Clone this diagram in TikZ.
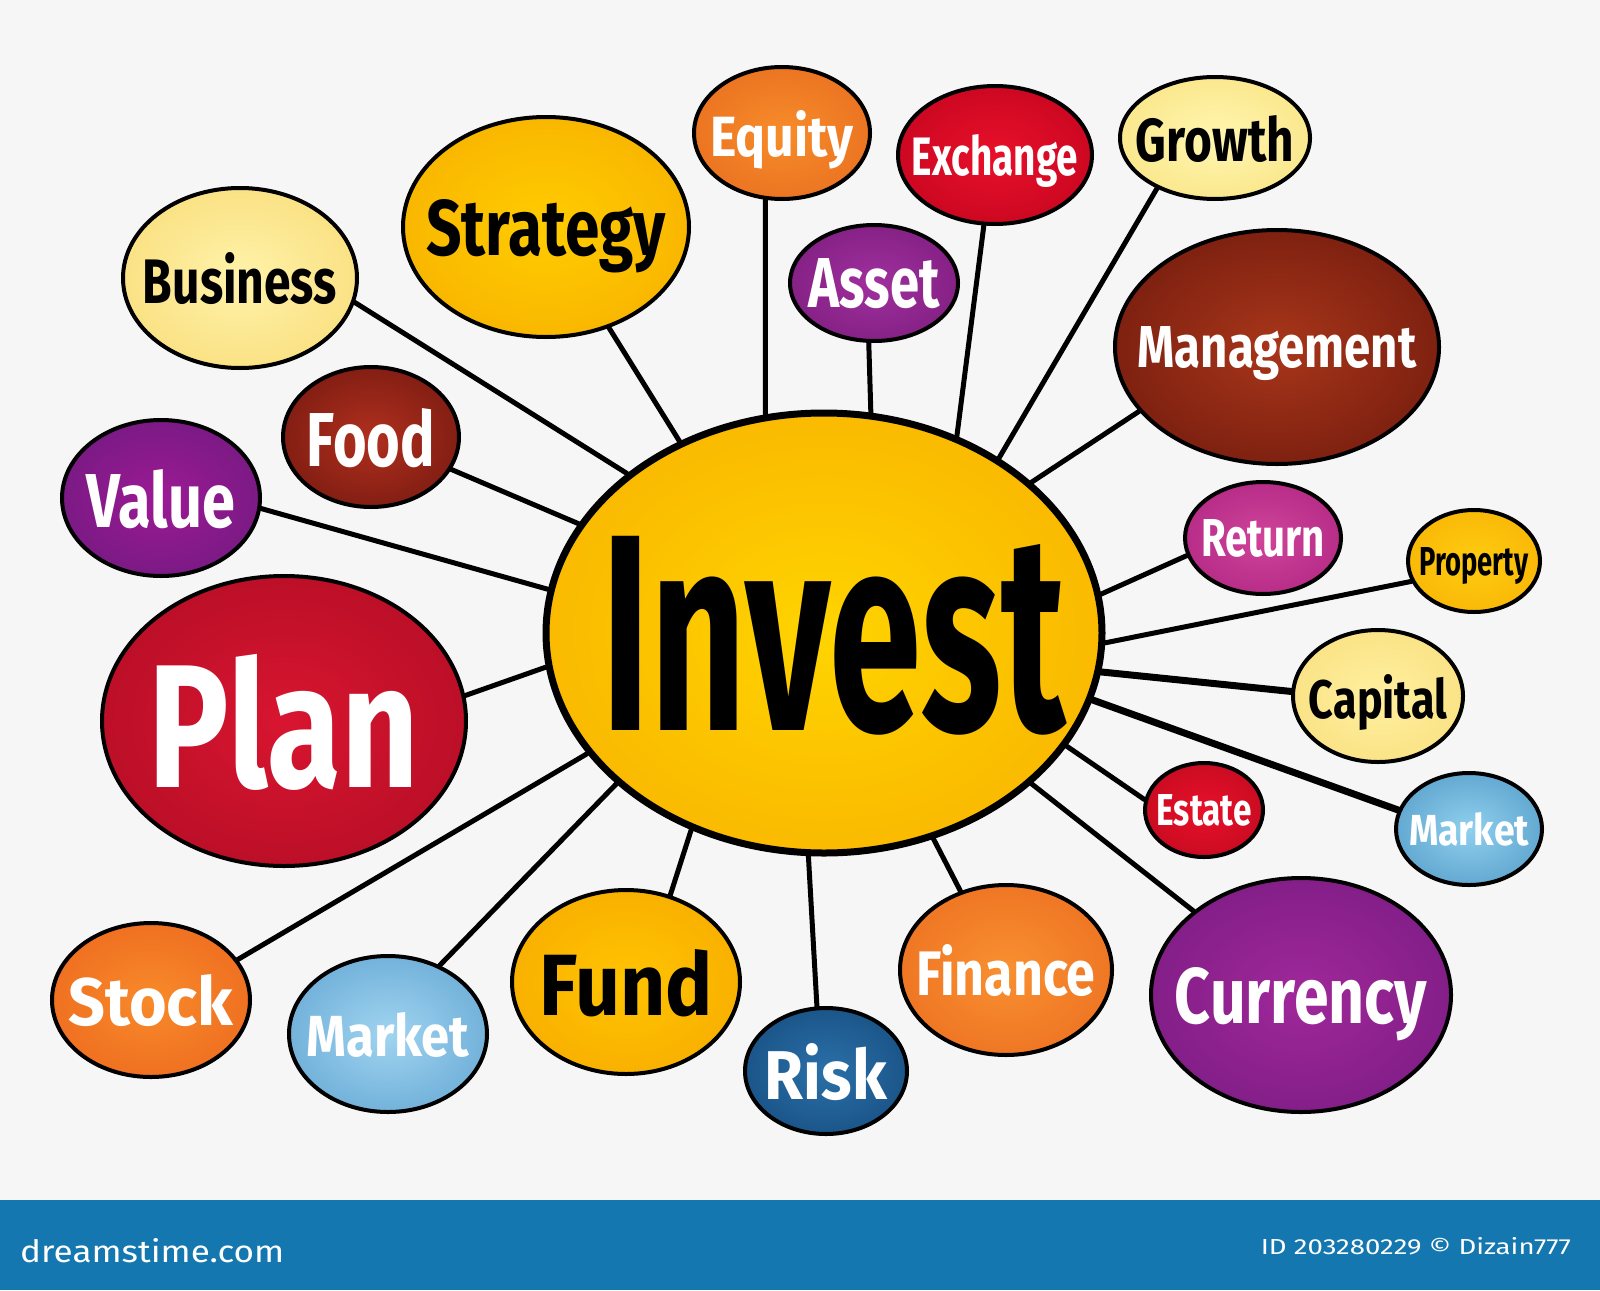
\documentclass[tikz,border=0pt]{standalone}
\usepackage{fontspec}
\setmainfont{Fira Sans}
\usepackage{graphicx}
\usetikzlibrary{shapes.geometric}
\colorlet{inC}{white}
\colorlet{outC}{black}
\pgfdeclareradialshading[inC,outC]{bubshade}{\pgfpoint{0bp}{0bp}}{color(0bp)=(inC); color(47bp)=(outC); color(50bp)=(outC)}
\newcommand\lbl[4]{\smash{\makebox[0pt]{\raisebox{-0.5\height}{\resizebox{#1pt}{#2pt}{\color{#3}\bfseries #4}}}}}
\tikzset{
  fillgrad/.code 2 args={\colorlet{inC}{#1}\colorlet{outC}{#2}\tikzset{shade,shading=bubshade}},
  bubble/.style={ellipse, draw=black, line width=4pt, inner sep=0pt},
  link/.style={line width=5pt, line cap=round},
  thicklink/.style={line width=7pt, line cap=round},
}
\begin{document}
\begin{tikzpicture}[x=1pt,y=-1pt]
\path[use as bounding box] (0,0) rectangle (1600,1290);
\fill[color={rgb,255:red,246;green,246;blue,246}] (0,0) rectangle (1600,1200);
\fill[color={rgb,255:red,20;green,119;blue,175}] (0,1200) rectangle (1600,1290);
\node[anchor=base west, inner sep=0pt] (brand) at (20,1262) {\resizebox{264pt}{24pt}{\color{white}dreamstime.com}};
\node[anchor=base east, inner sep=0pt] (imgid) at (1571,1254) {\resizebox{310pt}{17pt}{\color{white}ID 203280229 © Dizain777}};

% central
\node[bubble, line width=7pt, fillgrad={rgb,255:red,255;green,212;blue,0}{rgb,255:red,245;green,163;blue,0}, minimum width=556pt, minimum height=440pt] (invest) at (824,633) {\hspace{20pt}\lbl{464}{194}{black}{Invest}};

% top-left
\node[bubble, fillgrad={rgb,255:red,255;green,243;blue,170}{rgb,255:red,246;green,210;blue,100}, minimum width=234pt, minimum height=180pt] (business) at (240,278) {\lbl{194}{51}{black}{Business}};
\node[bubble, fillgrad={rgb,255:red,255;green,204;blue,0}{rgb,255:red,244;green,165;blue,0}, minimum width=286pt, minimum height=220pt] (strategy) at (546,227) {\lbl{240}{56}{black}{Strategy}};
\node[bubble, fillgrad={rgb,255:red,247;green,140;blue,42}{rgb,255:red,226;green,96;blue,26}, minimum width=176pt, minimum height=132pt] (equity) at (782,133) {\lbl{143}{46}{white}{Equity}};
\node[bubble, fillgrad={rgb,255:red,232;green,16;blue,42}{rgb,255:red,181;green,0;blue,26}, minimum width=194pt, minimum height=138pt] (exchange) at (995,155) {\lbl{166}{41}{white}{Exchange}};
\node[bubble, fillgrad={rgb,255:red,255;green,246;blue,176}{rgb,255:red,247;green,220;blue,112}, minimum width=190pt, minimum height=122pt] (growth) at (1215,138) {\lbl{158}{46}{black}{Growth}};
\node[bubble, fillgrad={rgb,255:red,160;green,48;blue,158}{rgb,255:red,110;green,20;blue,112}, minimum width=168pt, minimum height=116pt] (asset) at (874,283) {\lbl{131}{49}{white}{Asset}};
\node[bubble, fillgrad={rgb,255:red,168;green,54;blue,26}{rgb,255:red,90;green,14;blue,8}, minimum width=324pt, minimum height=234pt] (management) at (1277,347) {\lbl{279}{41}{white}{Management}};
\node[bubble, fillgrad={rgb,255:red,176;green,48;blue,30}{rgb,255:red,92;green,14;blue,10}, minimum width=176pt, minimum height=140pt] (food) at (371,437) {\lbl{128}{58}{white}{Food}};
\node[bubble, fillgrad={rgb,255:red,156;green,26;blue,148}{rgb,255:red,94;green,26;blue,120}, minimum width=198pt, minimum height=156pt] (value) at (161,498) {\lbl{148}{58}{white}{Value}};
\node[bubble, fillgrad={rgb,255:red,216;green,21;blue,48}{rgb,255:red,163;green,10;blue,32}, minimum width=364pt, minimum height=290pt] (plan) at (284,721) {\lbl{270}{133}{white}{Plan}};

% right
\node[bubble, fillgrad={rgb,255:red,208;green,68;blue,154}{rgb,255:red,160;green,24;blue,120}, minimum width=156pt, minimum height=112pt] (return) at (1263,538) {\lbl{124}{37}{white}{Return}};
\node[bubble, fillgrad={rgb,255:red,255;green,204;blue,16}{rgb,255:red,244;green,168;blue,0}, minimum width=132pt, minimum height=102pt] (property) at (1474,561) {\lbl{109}{28}{black}{Property}};
\node[bubble, fillgrad={rgb,255:red,255;green,240;blue,160}{rgb,255:red,247;green,216;blue,112}, minimum width=170pt, minimum height=132pt] (capital) at (1378,696) {\lbl{138}{44}{black}{Capital}};
\node[bubble, fillgrad={rgb,255:red,232;green,16;blue,42}{rgb,255:red,176;green,8;blue,26}, minimum width=118pt, minimum height=94pt] (estate) at (1204,810) {\lbl{95}{31}{white}{Estate}};
\node[bubble, fillgrad={rgb,255:red,143;green,208;blue,238}{rgb,255:red,61;green,134;blue,184}, minimum width=146pt, minimum height=112pt] (marketr) at (1469,829) {\lbl{120}{33}{white}{Market}};
\node[bubble, fillgrad={rgb,255:red,160;green,40;blue,154}{rgb,255:red,106;green,22;blue,120}, minimum width=300pt, minimum height=234pt] (currency) at (1301,995) {\lbl{252}{56}{white}{Currency}};

% bottom
\node[bubble, fillgrad={rgb,255:red,248;green,144;blue,48}{rgb,255:red,232;green,96;blue,26}, minimum width=212pt, minimum height=170pt] (finance) at (1006,970) {\lbl{179}{51}{white}{Finance}};
\node[bubble, fillgrad={rgb,255:red,42;green,112;blue,168}{rgb,255:red,14;green,62;blue,110}, minimum width=162pt, minimum height=126pt] (risk) at (826,1071) {\lbl{122}{56}{white}{Risk}};
\node[bubble, fillgrad={rgb,255:red,255;green,196;blue,0}{rgb,255:red,244;green,160;blue,0}, minimum width=228pt, minimum height=184pt] (fund) at (626,982) {\lbl{173}{66}{black}{Fund}};
\node[bubble, fillgrad={rgb,255:red,160;green,212;blue,240}{rgb,255:red,76;green,148;blue,200}, minimum width=198pt, minimum height=156pt] (marketl) at (388,1034) {\lbl{163}{44}{white}{Market}};
\node[bubble, fillgrad={rgb,255:red,248;green,138;blue,42}{rgb,255:red,232;green,90;blue,26}, minimum width=198pt, minimum height=154pt] (stock) at (151,1000) {\lbl{165}{51}{white}{Stock}};

% connectors
\draw[link] (business.348.2) -- (invest.141.4);
\draw[link] (strategy.302.2) -- (invest.127);
\draw[link] (equity.256.2) -- (invest.105.7);
\draw[link] (asset.265.1) -- (invest.78.7);
\draw[link] (exchange.261.9) -- (invest.56.8);
\draw[link] (growth.221.8) -- (invest.45.3);
\draw[link] (management.205.5) -- (invest.36);
\draw[link] (food.338.4) -- (invest.156.5);
\draw[link] (value.354.1) -- (invest.171.1);
\draw[link] (plan.8.6) -- (invest.187.3);
\draw[link] (return.193.9) -- (invest.8.7);
\draw[link] (property.198.7) -- (invest.358.3);
\draw[thicklink] (capital.177.2) -- (invest.352);
\draw[thicklink] (marketr.165.3) -- (invest.346);
\draw[link] (estate.170.2) -- (invest.335.5);
\draw[link] (currency.142.3) -- (invest.324.2);
\draw[link] (finance.120.2) -- (invest.298.4);
\draw[link] (risk.98.5) -- (invest.266.8);
\draw[link] (fund.63.7) -- (invest.236.2);
\draw[link] (marketl.53.7) -- (invest.216.8);
\draw[link] (stock.25.8) -- (invest.207.8);
\end{tikzpicture}
\end{document}
